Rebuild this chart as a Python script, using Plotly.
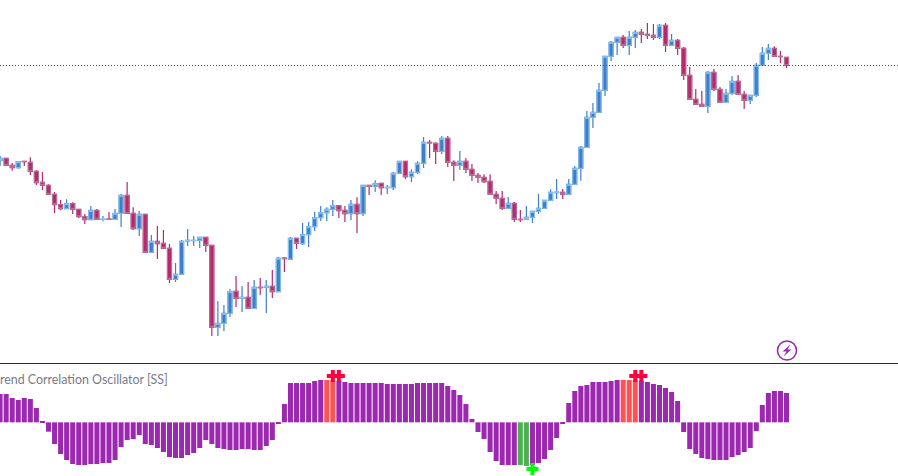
import plotly.graph_objects as go

# Price series (arbitrary chart units)
opens = [608,614,593,586,605,602,575,542,533,506,475,463,478,461,439,430,458,431,432,431,
         449,503,449,403,446,332,365,359,344,251,266,366,367,368,377,353,107,119,149,215,
         194,197,164,227,227,230,214,315,311,374,358,385,409,436,451,461,472,458,448,476,
         448,533,530,539,526,526,569,605,559,572,599,662,659,635,674,602,593,605,581,563,
         557,545,506,494,464,479,431,431,437,455,464,488,511,512,506,536,584,647,737,752,
         818,920,962,977,953,977,992,986,983,977,1013,953,968,944,863,791,776,770,872,821,
         782,809,845,806,788,803,893,929,944,920,917]
highs = [621,614,600,604,605,617,578,573,536,513,489,491,482,461,447,471,462,441,453,462,
         507,543,467,456,446,384,411,399,357,300,369,402,381,377,377,353,186,174,222,261,
         231,243,249,255,249,279,318,318,378,374,420,423,453,471,467,489,472,471,489,497,
         533,533,548,539,534,573,605,605,581,605,678,669,662,681,681,608,636,615,597,570,
         566,566,516,516,498,483,459,471,455,507,488,521,552,522,552,591,651,756,780,840,
         920,966,977,984,996,999,1002,1020,1017,1017,1020,987,972,948,888,822,816,876,882,828,
         822,861,864,816,803,900,948,957,950,936,917]
lows = [591,593,577,583,591,564,534,519,506,450,459,463,447,435,417,430,431,425,431,431,
        408,449,399,381,332,332,312,344,240,243,266,351,351,345,333,81,81,96,138,168,
        153,164,164,204,150,195,214,273,311,342,354,348,396,426,426,441,435,423,429,390,
        441,504,513,504,507,519,569,552,543,567,585,615,597,627,588,546,579,570,546,540,
        540,506,477,459,464,423,423,430,420,447,464,488,492,492,506,536,547,647,705,752,
        801,906,924,945,924,945,960,972,969,972,933,953,924,849,791,776,770,750,816,782,
        782,804,806,762,777,798,893,909,920,900,885]
closes = [614,593,586,604,604,575,541,533,506,475,463,478,461,439,430,458,431,432,431,449,
          503,449,403,446,332,365,358,344,251,266,365,368,368,377,353,107,119,149,214,194,
          197,164,227,226,230,214,314,313,374,359,385,409,436,451,461,472,457,448,476,448,
          533,530,538,526,527,569,605,559,572,599,662,660,635,674,602,593,605,581,563,557,
          544,506,494,464,479,431,430,437,455,464,488,512,513,506,536,584,647,737,752,818,
          920,962,977,953,977,992,986,983,977,1013,953,968,944,863,791,776,770,872,821,782,
          809,845,806,788,803,893,929,944,920,919,893]
reference_level = 892.5

# Oscillator
osc_values = [85,85,73,67,73,70,43,4,-28,-65,-95,-113,-125,-128,-128,-125,-125,-122,-122,-113,
              -74,-53,-50,-38,-65,-68,-77,-89,-104,-107,-107,-98,-92,-77,-53,-65,-77,-80,-83,-83,
              -80,-80,-83,-83,-71,-53,-5,55,118,118,118,118,124,127,127,127,124,121,118,118,
              118,118,118,118,115,115,115,115,115,118,118,118,118,118,109,97,82,55,10,-29,
              -50,-89,-116,-128,-128,-128,-128,-131,-128,-122,-110,-83,-47,-5,58,94,109,112,121,121,
              121,124,127,127,127,127,124,121,115,112,103,91,64,-29,-80,-95,-107,-110,-113,-113,
              -113,-104,-98,-89,-77,-26,52,88,94,94,88]
overbought_bars = [54, 55, 103, 104, 105]
oversold_bars = [86, 87]
sell_signal_bars = [55, 56, 105, 106]
sell_signal_values = [139, 139, 139, 139]
buy_signal_bars = [88]
buy_signal_values = [-140]
indicator_title = "rend Correlation Oscillator [SS]"

W, H = 898, 476
BLUE, BLUE_EDGE = "#3f7fc8", "#94cbf6"
RED, RED_EDGE = "#b42a6c", "#b27f9f"
PURPLE, ORANGE, GREEN = "#9c27b0", "#ff5252", "#4caf50"

idx = list(range(len(closes)))
tops = [max(a, b) for a, b in zip(opens, closes)]
bots = [min(a, b) for a, b in zip(opens, closes)]
bar_colors = [ORANGE if i in overbought_bars else GREEN if i in oversold_bars else PURPLE for i in idx]

fig = go.Figure()
fig.add_trace(go.Candlestick(
    x=idx, open=opens, high=highs, low=lows, close=closes, xaxis="x", yaxis="y",
    increasing=dict(line=dict(color=BLUE, width=1.2), fillcolor=BLUE),
    decreasing=dict(line=dict(color=RED, width=1.2), fillcolor=RED),
    whiskerwidth=0, showlegend=False, hoverinfo="skip"))
fig.add_trace(go.Candlestick(
    x=idx, open=opens, high=tops, low=bots, close=closes, xaxis="x", yaxis="y",
    increasing=dict(line=dict(color=BLUE_EDGE, width=0.9), fillcolor=BLUE),
    decreasing=dict(line=dict(color=RED_EDGE, width=0.9), fillcolor=RED),
    whiskerwidth=0, showlegend=False, hoverinfo="skip"))
fig.add_trace(go.Bar(x=idx, y=osc_values, xaxis="x2", yaxis="y2", width=0.83,
                     marker=dict(color=bar_colors, line=dict(width=0)), showlegend=False))
fig.add_trace(go.Scatter(x=sell_signal_bars, y=sell_signal_values, mode="markers", xaxis="x2", yaxis="y2",
                         marker=dict(symbol="cross", size=10, color="#ff0040", line=dict(width=0)),
                         showlegend=False))
fig.add_trace(go.Scatter(x=buy_signal_bars, y=buy_signal_values, mode="markers", xaxis="x2", yaxis="y2",
                         marker=dict(symbol="cross", size=10, color="#00ff00", line=dict(width=0)),
                         showlegend=False))


def px(x):
    return x / W


def py(y):
    return 1 - y / H


cx, cy = 787.0, 350.5
bolt = [(3.5, -6), (-4.5, 1), (-0.5, 1), (-3.5, 6), (4.5, -1), (0.5, -1)]
bolt_path = "M" + " L".join(f"{px(cx + a):.5f},{py(cy + b):.5f}" for a, b in bolt) + " Z"

x_range = [-0.017, 148.43]
fig.update_layout(
    width=W, height=H, margin=dict(l=0, r=0, t=0, b=0),
    paper_bgcolor="white", plot_bgcolor="white", boxgap=0.33, boxgroupgap=0, bargap=0.17,
    xaxis=dict(range=x_range, domain=[0, 1], anchor="y", visible=True, showgrid=False, zeroline=False,
               showticklabels=False, ticks="", rangeslider=dict(visible=False),
               showline=True, linecolor="#2a2e39", linewidth=1),
    yaxis=dict(range=[0, 1089], domain=[113 / H, 1], anchor="x", showgrid=False, zeroline=False,
               showticklabels=False, ticks=""),
    xaxis2=dict(range=x_range, domain=[0, 1], anchor="y2", showgrid=False, zeroline=False,
                showticklabels=False, ticks="", rangeslider=dict(visible=False)),
    yaxis2=dict(range=[-161, 175], domain=[0, 112 / H], anchor="x2", showgrid=False, zeroline=False,
                showticklabels=False, ticks=""),
    shapes=[
        dict(type="line", xref="paper", x0=0, x1=1, yref="y", y0=reference_level, y1=reference_level,
             line=dict(color="#c2185b", width=1, dash="1px,2px")),
        dict(type="circle", xref="paper", yref="paper", x0=px(cx - 9.5), x1=px(cx + 9.5),
             y0=py(cy + 9.5), y1=py(cy - 9.5), line=dict(color=PURPLE, width=1.6), fillcolor="white"),
        dict(type="path", xref="paper", yref="paper", path=bolt_path, fillcolor=PURPLE, line=dict(width=0)),
    ],
    annotations=[dict(text=indicator_title, xref="paper", yref="paper", x=px(0), y=py(379), xshift=-2,
                      xanchor="left", yanchor="middle", showarrow=False, align="left",
                      font=dict(family="Lato", size=12.4, color="#787b86"))],
)
fig.write_html("out.html", config=dict(displayModeBar=False),
               post_script="document.body.style.margin='0';")
